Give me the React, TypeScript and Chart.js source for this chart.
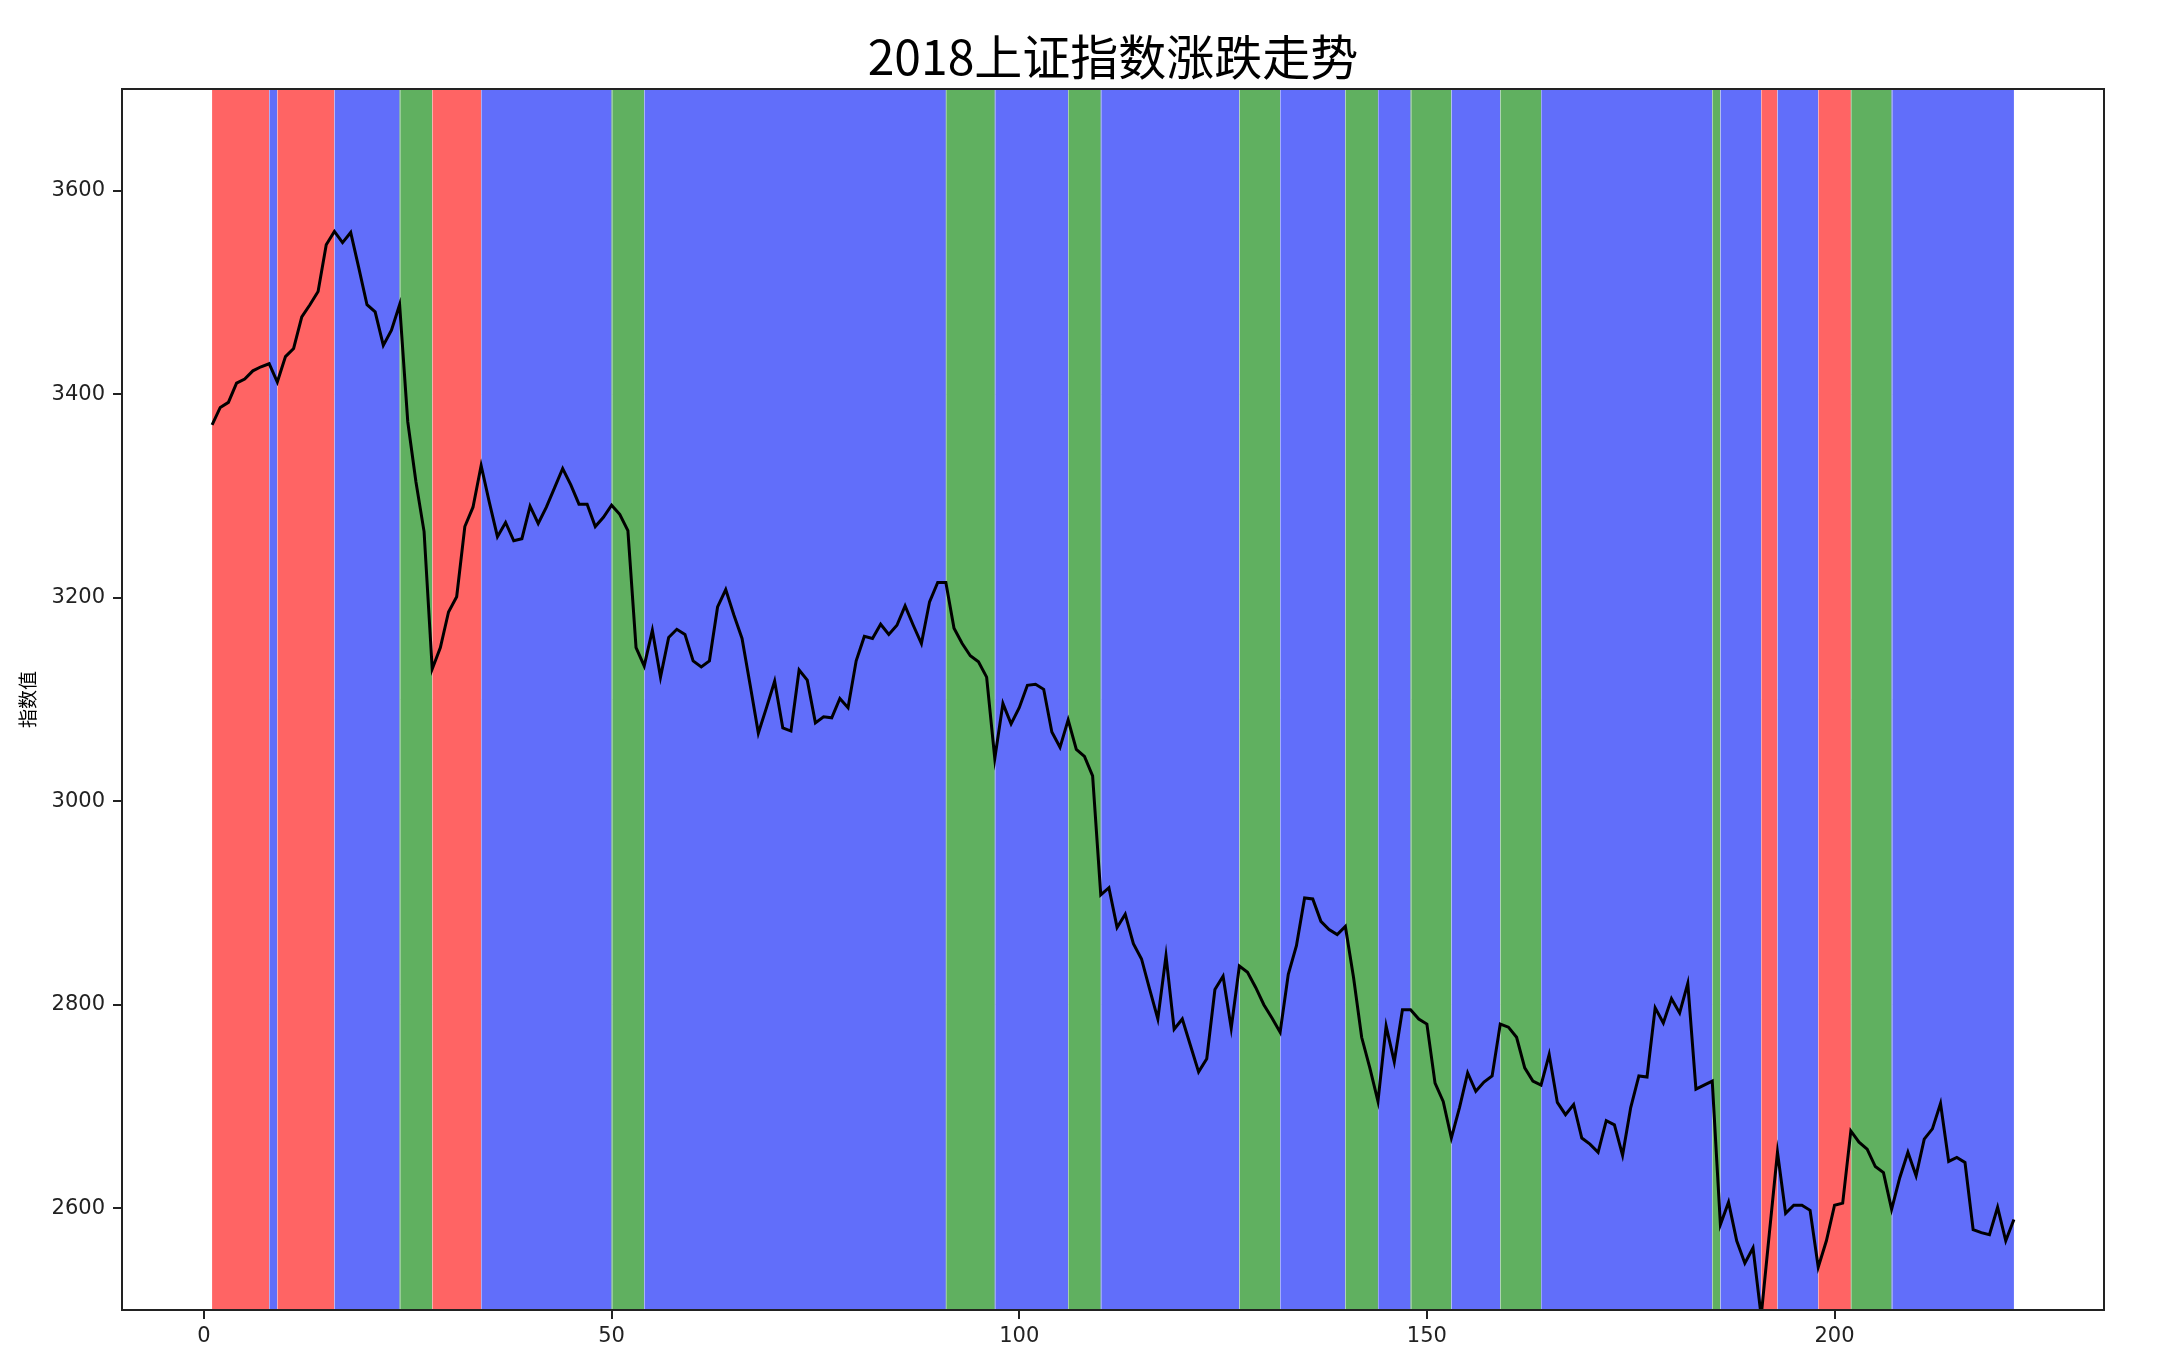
import React, { useEffect, useRef } from 'react';
import { Chart, registerables } from 'chart.js';

Chart.register(...registerables);

const chartTitle = '2018上证指数涨跌走势';
const yAxisTitle = '指数值';

// trading-day index (x) 1..222
const tradingDays: number[] = [];
for (let d = 1; d <= 222; d++) tradingDays.push(d);

const indexValues = [
  3370, 3387, 3392, 3411, 3415, 3423, 3427, 3430, 3412, 3437,
  3445, 3476, 3488, 3501, 3547, 3560, 3549, 3559, 3524, 3488,
  3481, 3448, 3463, 3488, 3373, 3314, 3265, 3130, 3151, 3186,
  3201, 3270, 3289, 3330, 3294, 3260, 3274, 3256, 3258, 3290,
  3273, 3289, 3308, 3327, 3311, 3292, 3292, 3270, 3279, 3291,
  3282, 3266, 3151, 3133, 3168, 3122, 3161, 3169, 3164, 3138,
  3132, 3138, 3191, 3208, 3183, 3160, 3114, 3067, 3092, 3118,
  3072, 3069, 3129, 3119, 3077, 3083, 3082, 3101, 3092, 3138,
  3162, 3160, 3174, 3164, 3173, 3192, 3173, 3155, 3196, 3215,
  3215, 3170, 3155, 3143, 3137, 3122, 3042, 3096, 3076, 3092,
  3114, 3115, 3110, 3068, 3053, 3080, 3051, 3044, 3025, 2908,
  2915, 2876, 2889, 2860, 2845, 2815, 2786, 2848, 2776, 2786,
  2760, 2734, 2747, 2815, 2828, 2777, 2838, 2832, 2817, 2800,
  2787, 2773, 2830, 2858, 2905, 2904, 2882, 2874, 2869, 2877,
  2827, 2768, 2738, 2705, 2779, 2744, 2795, 2795, 2786, 2781,
  2723, 2705, 2669, 2699, 2733, 2715, 2724, 2730, 2781, 2778,
  2768, 2738, 2725, 2721, 2751, 2704, 2692, 2702, 2669, 2663,
  2655, 2686, 2682, 2652, 2699, 2730, 2729, 2797, 2782, 2806,
  2792, 2821, 2717, 2721, 2725, 2584, 2606, 2568, 2546, 2561,
  2494, 2575, 2655, 2595, 2603, 2603, 2598, 2542, 2568, 2603,
  2605, 2676, 2665, 2658, 2641, 2635, 2599, 2630, 2655, 2632,
  2668, 2678, 2703, 2646, 2650, 2645, 2579, 2576, 2574, 2601,
  2568, 2589,
];

const bandStarts = [1, 8, 9, 16, 24, 28, 34, 50, 54, 91, 97, 106, 110, 127, 132, 140, 144, 148, 153, 159, 164, 185, 186, 191, 193, 198, 202, 207];
const bandEnds = [8, 9, 16, 24, 28, 34, 50, 54, 91, 97, 106, 110, 127, 132, 140, 144, 148, 153, 159, 164, 185, 186, 191, 193, 198, 202, 207, 222];
const bandKinds = ['r', 'b', 'r', 'b', 'g', 'r', 'b', 'g', 'b', 'g', 'b', 'g', 'b', 'g', 'b', 'g', 'b', 'g', 'b', 'g', 'b', 'g', 'b', 'r', 'b', 'r', 'g', 'b'];

const xTickValues = [0, 50, 100, 150, 200];
const yTickValues = [2600, 2800, 3000, 3200, 3400, 3600];

const X_MIN = -10.05;
const X_MAX = 233.05;
const Y_MIN = 2500;
const Y_MAX = 3700;

const BAND_COLORS: Record<string, string> = {
  r: 'rgb(255,100,100)',
  b: 'rgb(97,110,250)',
  g: 'rgb(96,176,96)',
};

const W = 2168;
const H = 1358;

const bandsPlugin = {
  id: 'bands',
  beforeDatasetsDraw(chart: any) {
    const { ctx, chartArea, scales } = chart;
    const x = scales.x;
    ctx.save();
    ctx.beginPath();
    ctx.rect(chartArea.left, chartArea.top, chartArea.right - chartArea.left, chartArea.bottom - chartArea.top);
    ctx.clip();
    bandStarts.forEach((s, i) => {
      const x0 = x.getPixelForValue(s);
      const x1 = x.getPixelForValue(bandEnds[i]);
      ctx.fillStyle = BAND_COLORS[bandKinds[i]];
      ctx.fillRect(x0, chartArea.top, x1 - x0, chartArea.bottom - chartArea.top);
    });
    ctx.strokeStyle = 'rgba(255,255,255,0.35)';
    ctx.lineWidth = 1;
    bandStarts.forEach((s, i) => {
      if (i === 0) return;
      const px = Math.round(x.getPixelForValue(s)) + 0.5;
      ctx.beginPath();
      ctx.moveTo(px, chartArea.top);
      ctx.lineTo(px, chartArea.bottom);
      ctx.stroke();
    });
    ctx.restore();
  },
  afterDatasetsDraw(chart: any) {
    const { ctx, chartArea } = chart;
    ctx.save();
    ctx.strokeStyle = '#222';
    ctx.lineWidth = 2;
    ctx.strokeRect(chartArea.left, chartArea.top, chartArea.right - chartArea.left, chartArea.bottom - chartArea.top);
    ctx.restore();
  },
};

export default function App() {
  const canvasRef = useRef<HTMLCanvasElement | null>(null);

  useEffect(() => {
    document.body.style.margin = '0';
    const canvas = canvasRef.current;
    if (!canvas) return;
    const tickFont = { family: 'DejaVu Sans', size: 21 };
    const chart = new Chart(canvas, {
      type: 'line',
      data: {
        datasets: [
          {
            data: indexValues.map((v, i) => ({ x: tradingDays[i], y: v })),
            borderColor: '#000',
            borderWidth: 3,
            pointRadius: 0,
            tension: 0,
            fill: false,
          },
        ],
      },
      options: {
        responsive: false,
        devicePixelRatio: 1,
        animation: false,
        layout: { padding: { left: 0, right: 64, top: 0, bottom: 0 } },
        plugins: {
          legend: { display: false },
          tooltip: { enabled: false },
          title: {
            display: true,
            fullSize: false,
            text: chartTitle,
            color: '#000',
            font: { family: 'Noto Sans CJK SC', size: 48, weight: 'normal' },
            padding: { top: 28, bottom: 3.4 },
          },
        },
        scales: {
          x: {
            type: 'linear',
            min: X_MIN,
            max: X_MAX,
            afterBuildTicks: (s: any) => {
              s.ticks = xTickValues.map((v) => ({ value: v }));
            },
            afterFit: (s: any) => {
              s.height = 48;
            },
            border: { display: false },
            grid: {
              display: true,
              drawOnChartArea: false,
              drawTicks: true,
              tickLength: 9,
              tickColor: '#222',
              lineWidth: 2,
            },
            ticks: {
              font: tickFont,
              color: '#222',
              padding: 5,
              maxRotation: 0,
              autoSkip: false,
              callback: (v: any) => String(v),
            },
          },
          y: {
            type: 'linear',
            min: Y_MIN,
            max: Y_MAX,
            afterBuildTicks: (s: any) => {
              s.ticks = yTickValues.map((v) => ({ value: v }));
            },
            afterFit: (s: any) => {
              s.width = 122;
            },
            border: { display: false },
            grid: {
              display: true,
              drawOnChartArea: false,
              drawTicks: true,
              tickLength: 9,
              tickColor: '#222',
              lineWidth: 2,
            },
            ticks: {
              font: tickFont,
              color: '#222',
              padding: 8,
              autoSkip: false,
              callback: (v: any) => String(v),
            },
            title: {
              display: true,
              text: yAxisTitle,
              color: '#000',
              font: { family: 'Noto Sans CJK SC', size: 19 },
              padding: { top: 16, bottom: 0 },
            },
          },
        },
      },
      plugins: [bandsPlugin],
    } as any);
    return () => chart.destroy();
  }, []);

  return (
    <div style={{ width: W, height: H }}>
      <canvas ref={canvasRef} width={W} height={H} style={{ width: W, height: H, display: 'block' }} />
    </div>
  );
}
